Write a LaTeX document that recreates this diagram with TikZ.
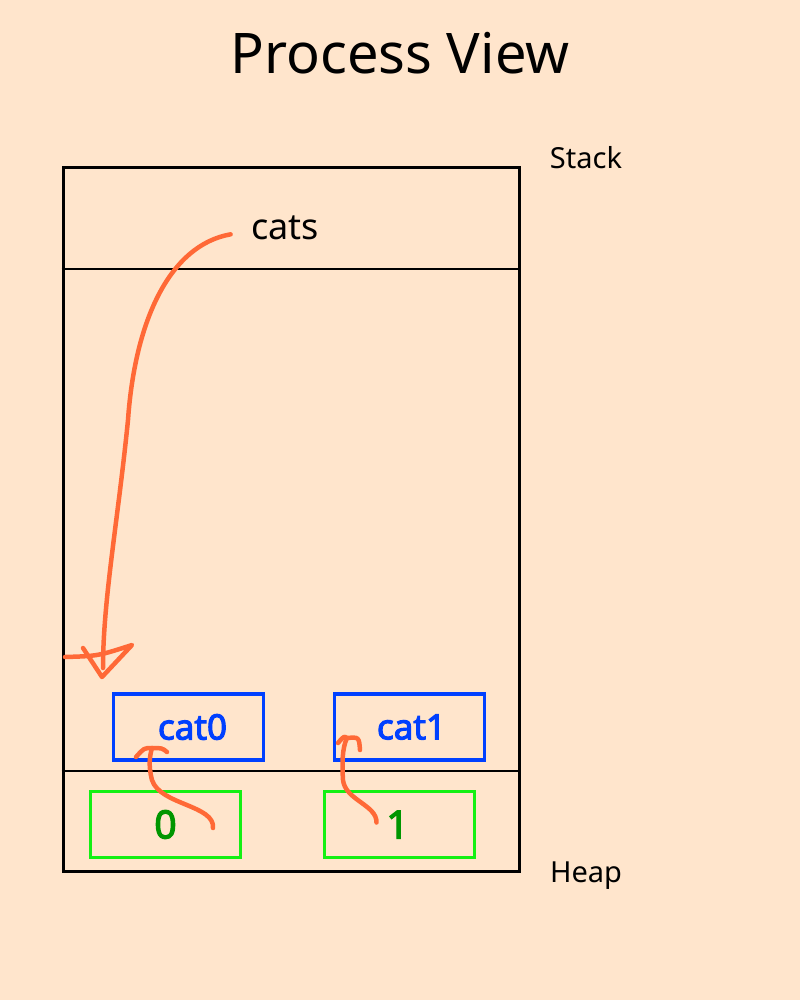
\documentclass[tikz,border=0pt]{standalone}
\usepackage{fontspec}
\setmainfont{Noto Sans}[AutoFakeBold=3]
\usepackage{xcolor}
\usetikzlibrary{positioning,calc}
\definecolor{fundo}{RGB}{255,229,204}
\definecolor{azul}{RGB}{0,64,255}
\definecolor{verde}{RGB}{20,240,20}
\definecolor{verdeEscuro}{RGB}{0,150,0}
\definecolor{laranja}{RGB}{255,105,55}
\tikzset{
    caixa/.style={
        rectangle,
        draw,
        line width=3.5pt,
        minimum width=150pt,
        minimum height=66pt,
        inner sep=0pt
    },
    objeto/.style={caixa, draw=azul, text=azul,
        font=\fontsize{35}{40}\selectfont\bfseries},
    valor/.style={caixa, draw=verde, text=verdeEscuro,
        font=\fontsize{39}{44}\selectfont\bfseries},
    rotulo/.style={anchor=base, font=\fontsize{29}{34}\selectfont},
    rabisco/.style={draw=laranja, line width=4.5pt, line cap=round, line join=round}
}

\begin{document}
\begin{tikzpicture}[x=1pt, y=-1pt]
        \fill[fundo] (0,0) rectangle (800,1000);
        \node[anchor=base, font=\fontsize{56}{60}\selectfont] (titulo) at (400,74)
            {Process View};
        % pilha e heap
        \node[draw, line width=3pt, minimum width=456pt, minimum height=703pt,
            inner sep=0pt] (processo) at (291,519.5) {};
        \draw[line width=2.2pt] (processo.west |- 0,269) -- (processo.east |- 0,269);
        \draw[line width=2.2pt] (processo.west |- 0,771) -- (processo.east |- 0,771);
        \node[rotulo] (stack) at (586,169) {Stack};
        \node[rotulo] (heap) at (586,882) {Heap};
        \node[anchor=base, font=\fontsize{36}{40}\selectfont] (cats) at (285,240) {cats};
        \node[objeto] (cat0) at (188.5,727) {\hspace{8pt}cat0};
        \node[objeto] (cat1) at (409.5,727) {\hspace{4pt}cat1};
        \node[valor] (zero) at (165.5,824.5) {0};
        \node[valor] (um) at (399.5,824.5) {\hspace{-4pt}1};
        % ponteiros
        \coordinate (seta) at (103,668);
        \draw[rabisco] ($(cats.west)+(-17,6)$)
            .. controls (170,245) and (135,320) .. (128,420)
            .. controls (118,520) and (103,600) .. (seta);
        \draw[rabisco] ($(seta)+(-38,-11)$) .. controls ($(seta)+(-5,-12)$) .. ($(seta)+(29,-23)$)
            -- ($(seta)+(-1,9)$) -- ($(seta)+(-20,-20)$);
        \coordinate (ponta0) at (152,748);
        \draw[rabisco] ($(zero)+(47.5,3.5)$)
            .. controls (215,805) and (160,805) .. (152,780)
            .. controls (148,765) and (150,755) .. (ponta0);
        \draw[rabisco] ($(ponta0)+(-16,9)$) .. controls ($(ponta0)+(-8,0)$) .. (ponta0)
            .. controls ($(ponta0)+(10,0)$) .. ($(ponta0)+(15,4)$);
        \coordinate (ponta1) at (347,738);
        \draw[rabisco] ($(um)+(-23,-2)$)
            .. controls (377,805) and (345,800) .. (343,780)
            .. controls (342,765) and (342,748) .. (ponta1);
        \draw[rabisco] ($(ponta1)+(-9,5)$) .. controls ($(ponta1)+(-3,-2)$) .. (ponta1)
            .. controls ($(ponta1)+(12,-1)$) .. ($(ponta1)+(13,12)$);
    \end{tikzpicture}
\end{document}
